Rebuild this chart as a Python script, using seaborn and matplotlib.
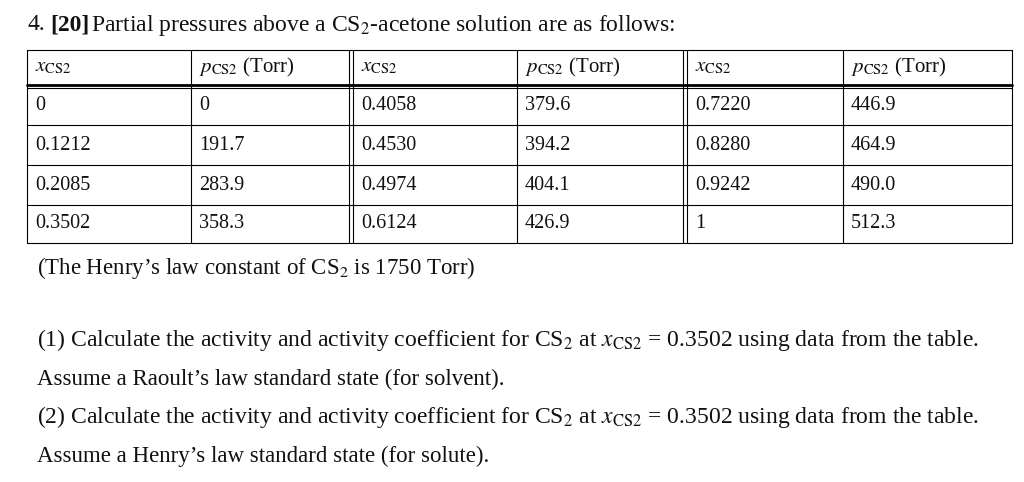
import seaborn as sns
import matplotlib
matplotlib.use("Agg")
from matplotlib import pyplot as plt

x_col1 = ["0", "0.1212", "0.2085", "0.3502"]
p_col1 = ["0", "191.7", "283.9", "358.3"]
x_col2 = ["0.4058", "0.4530", "0.4974", "0.6124"]
p_col2 = ["379.6", "394.2", "404.1", "426.9"]
x_col3 = ["0.7220", "0.8280", "0.9242", "1"]
p_col3 = ["446.9", "464.9", "490.0", "512.3"]
headers = [r"$x_{\mathrm{CS2}}$", r"$p_{\mathrm{CS2}}$ (Torr)"] * 3

sns.set_theme(style="white")
plt.rcParams['font.family'] = ['Liberation Serif', 'DejaVu Serif']
plt.rcParams['mathtext.fontset'] = 'stix'

W, H = 1024, 482
fig = plt.figure(figsize=(W / 100, H / 100), dpi=100)
fig.patch.set_facecolor('white')

def P(x, y):
    return x / W, 1 - y / H

def txt(x, y, s, size=14.5, **kw):
    return fig.text(*P(x, y), s, fontsize=size, va='center', ha='left', color='#111111', **kw)

def line(x0, y0, x1, y1, lw=1.0):
    a, b = P(x0, y0)
    c, d = P(x1, y1)
    fig.add_artist(plt.Line2D([a, c], [b, d], color='black', lw=lw, transform=fig.transFigure))

# title
txt(27, 25, "4.", size=17)
txt(50, 25, "[20]", size=17, weight='bold')
txt(91, 25, "Partial pressures above a CS$_2$-acetone solution are as follows:", size=17)

# table grid
col_edges = [27, 191, 349, 353, 517, 683, 687, 843, 1012]
row_edges = [50, 85, 125, 165, 205, 243]
for y in row_edges:
    line(27, y, 1012, y, lw=2.0 if y == 85 else 0.8)
line(27, 88, 1012, 88, lw=0.8)
for x in col_edges:
    line(x, 50, x, 243, lw=0.8)

lefts = [27, 191, 353, 517, 687, 843]
for left, h in zip(lefts, headers):
    txt(left + 8, 67, h, size=15)
columns = [x_col1, p_col1, x_col2, p_col2, x_col3, p_col3]
row_mid = [105, 145, 185, 224]
for left, col in zip(lefts, columns):
    for y, v in zip(row_mid, col):
        txt(left + 8, y, v, size=14.5)

txt(37, 268, "(The Henry\u2019s law constant of CS$_2$ is 1750 Torr)", size=16.5)
txt(37, 340, "(1) Calculate the activity and activity coefficient for CS$_2$ at $x_{\\mathrm{CS2}}$ = 0.3502 using data from the table.", size=17)
txt(37, 379, "Assume a Raoult\u2019s law standard state (for solvent).", size=16.5)
txt(37, 417, "(2) Calculate the activity and activity coefficient for CS$_2$ at $x_{\\mathrm{CS2}}$ = 0.3502 using data from the table.", size=17)
txt(37, 456, "Assume a Henry\u2019s law standard state (for solute).", size=16.5)

fig.savefig("out.png", dpi=100, facecolor='white')
